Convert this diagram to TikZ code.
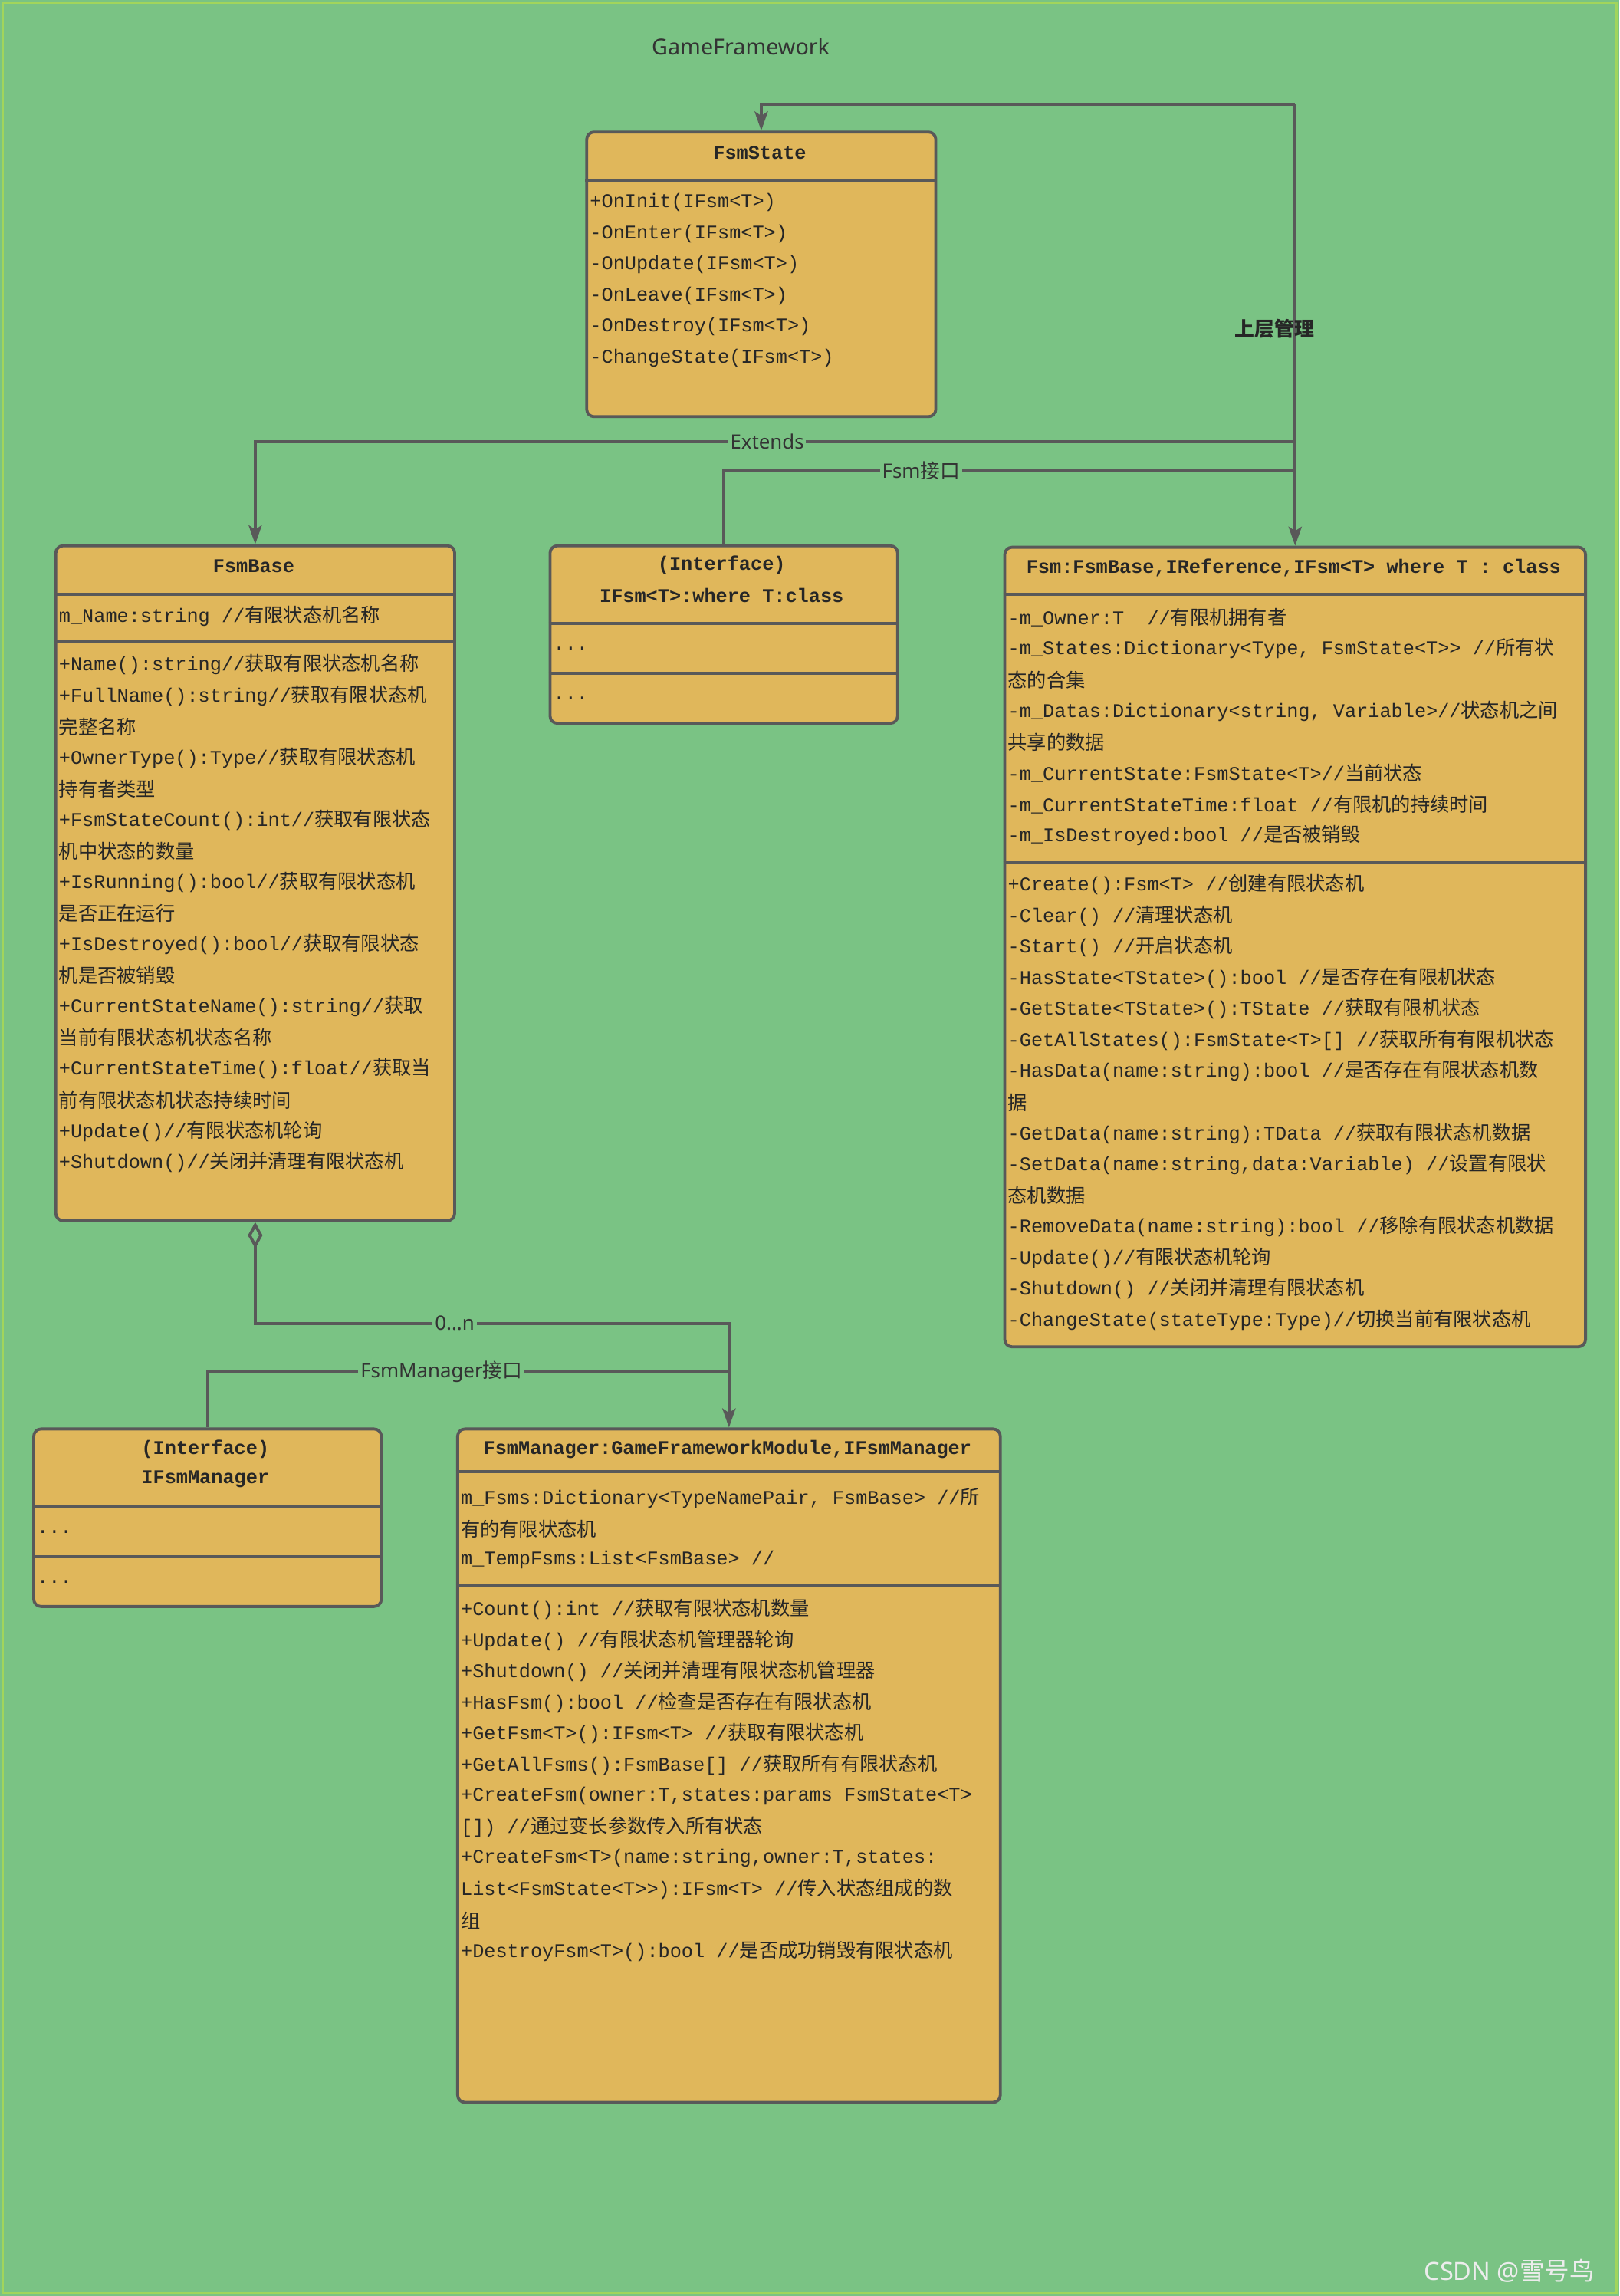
\documentclass[tikz,border=0pt]{standalone}
\usepackage{fontspec}
\setmainfont{Noto Sans}
\setsansfont{Noto Sans}
\setmonofont{Liberation Mono}
\newfontfamily\cjkfont{Noto Sans CJK SC}
\usetikzlibrary{arrows.meta}
\XeTeXinterchartokenstate=1
\newXeTeXintercharclass\CJKcls
\count255="4E00
\loop \XeTeXcharclass\count255=\CJKcls \ifnum\count255<"9FFF \advance\count255 by 1 \repeat
\count255="3000
\loop \XeTeXcharclass\count255=\CJKcls \ifnum\count255<"303F \advance\count255 by 1 \repeat
\count255="FF00
\loop \XeTeXcharclass\count255=\CJKcls \ifnum\count255<"FFEF \advance\count255 by 1 \repeat
\XeTeXinterchartoks 0 \CJKcls = {\begingroup\cjkfont}
\XeTeXinterchartoks 4095 \CJKcls = {\begingroup\cjkfont}
\XeTeXinterchartoks \CJKcls 0 = {\endgroup}
\XeTeXinterchartoks \CJKcls 4095 = {\endgroup}
\definecolor{bg}{RGB}{122,195,132}
\definecolor{boxfill}{RGB}{224,183,91}
\definecolor{ln}{RGB}{89,89,89}
\tikzset{
 umlbox/.style={draw=ln, fill=boxfill, line width=2pt, rounded corners=5pt, anchor=north west, inner sep=0},
 txt/.style={anchor=west, inner sep=0, font=\ttfamily\fontsize{13.2}{16}\selectfont, text=black!85},
 hdr/.style={inner sep=0, font=\ttfamily\bfseries\fontsize{13.2}{16}\selectfont, text=black!85},
 conn/.style={draw=ln, line width=2pt},
 arr/.style={conn, -{Stealth[length=13pt,width=9pt,inset=3pt]}},
 lbl/.style={fill=bg, inner sep=1.5pt, font=\sffamily\fontsize{13.5}{16}\selectfont, text=black!80},
 divline/.style={draw=ln, line width=2pt},
}
\newcommand{\boxlines}[4]{% prefix, x, y0, list
 \foreach \t [count=\i] in {#4} {\node[txt, name=#1\i] at (#2,{#3+21.2*(\i-1)}) {\t};}}
\begin{document}
\begin{tikzpicture}[x=1pt,y=-1pt]
\useasboundingbox (0,0) rectangle (1104,1565);
\fill[bg] (0,0) rectangle (1104,1565);
\draw[color=bg!70!yellow, line width=1.5pt] (2,2) rectangle (1102,1563);
\node[font=\sffamily\fontsize{15}{18}\selectfont, text=black!80] (title) at (505,32) {GameFramework};

% FsmState
\node[umlbox, minimum width=238pt, minimum height=194pt] (fsmstate) at (399,89) {};
\node[hdr] (fsmstateh) at (518,104) {FsmState};
\draw[divline] (399,123) -- (637,123);
\boxlines{fs}{402}{138}{+OnInit(IFsm<T>),-OnEnter(IFsm<T>),-OnUpdate(IFsm<T>),-OnLeave(IFsm<T>),-OnDestroy(IFsm<T>),-ChangeState(IFsm<T>)}

% FsmBase
\node[umlbox, minimum width=272pt, minimum height=460pt] (fsmbase) at (37,371) {};
\node[hdr] (fsmbaseh) at (173,386) {FsmBase};
\draw[divline] (37,405) -- (309,405);
\draw[divline] (37,437) -- (309,437);
\node[txt] (fba) at (40,420) {m\_Name:string //有限状态机名称};
\boxlines{fb}{40}{453}{+Name():string//获取有限状态机名称,+FullName():string//获取有限状态机,完整名称,+OwnerType():Type//获取有限状态机,持有者类型,+FsmStateCount():int//获取有限状态,机中状态的数量,+IsRunning():bool//获取有限状态机,是否正在运行,+IsDestroyed():bool//获取有限状态,机是否被销毁,+CurrentStateName():string//获取,当前有限状态机状态名称,+CurrentStateTime():float//获取当,前有限状态机状态持续时间,+Update()//有限状态机轮询,+Shutdown()//关闭并清理有限状态机}

% IFsm interface
\node[umlbox, minimum width=237pt, minimum height=121pt] (ifsm) at (374,371) {};
\node[hdr] (ifsmh1) at (492,385) {(Interface)};
\node[hdr] (ifsmh2) at (492,406) {IFsm<T>:where T:class};
\draw[divline] (374,425) -- (611,425);
\draw[divline] (374,459) -- (611,459);
\node[txt] (ifsma) at (377,442) {...};
\node[txt] (ifsmb) at (377,476) {...};

% Fsm
\node[umlbox, minimum width=396pt, minimum height=545pt] (fsm) at (684,372) {};
\node[hdr] (fsmh) at (882,387) {Fsm:FsmBase,IReference,IFsm<T> where T : class};
\draw[divline] (684,405) -- (1080,405);
\draw[divline] (684,588) -- (1080,588);
\boxlines{fa}{687}{421}{-m\_Owner:T\ \ //有限机拥有者,{-m\_States:Dictionary<Type, FsmState<T>> //所有状},态的合集,{-m\_Datas:Dictionary<string, Variable>//状态机之间},共享的数据,-m\_CurrentState:FsmState<T>//当前状态,-m\_CurrentStateTime:float //有限机的持续时间,-m\_IsDestroyed:bool //是否被销毁}
\boxlines{fm}{687}{603}{+Create():Fsm<T> //创建有限状态机,-Clear() //清理状态机,-Start() //开启状态机,-HasState<TState>():bool //是否存在有限机状态,-GetState<TState>():TState //获取有限机状态,-GetAllStates():FsmState<T>[] //获取所有有限机状态,-HasData(name:string):bool //是否存在有限状态机数,据,-GetData(name:string):TData //获取有限状态机数据,{-SetData(name:string,data:Variable) //设置有限状},态机数据,-RemoveData(name:string):bool //移除有限状态机数据,-Update()//有限状态机轮询,-Shutdown() //关闭并清理有限状态机,-ChangeState(stateType:Type)//切换当前有限状态机}

% IFsmManager
\node[umlbox, minimum width=237pt, minimum height=121pt] (ifsmmgr) at (22,973) {};
\node[hdr] (ifmh1) at (140,988) {(Interface)};
\node[hdr] (ifmh2) at (140,1008) {IFsmManager};
\draw[divline] (22,1027) -- (259,1027);
\draw[divline] (22,1061) -- (259,1061);
\node[txt] (ifma) at (25,1044) {...};
\node[txt] (ifmb) at (25,1078) {...};

% FsmManager
\node[umlbox, minimum width=370pt, minimum height=459pt] (fsmmgr) at (311,973) {};
\node[hdr] (fsmmgrh) at (496,988) {FsmManager:GameFrameworkModule,IFsmManager};
\draw[divline] (311,1003) -- (681,1003);
\draw[divline] (311,1081) -- (681,1081);
\boxlines{ma}{314}{1021}{{m\_Fsms:Dictionary<TypeNamePair, FsmBase> //所},有的有限状态机,m\_TempFsms:List<FsmBase> //}
\boxlines{mm}{314}{1097}{+Count():int //获取有限状态机数量,+Update() //有限状态机管理器轮询,+Shutdown() //关闭并清理有限状态机管理器,+HasFsm():bool //检查是否存在有限状态机,+GetFsm<T>():IFsm<T> //获取有限状态机,+GetAllFsms():FsmBase[] //获取所有有限状态机,{+CreateFsm(owner:T,states:params FsmState<T>},{[]) //通过变长参数传入所有状态},{+CreateFsm<T>(name:string,owner:T,states:},List<FsmState<T>>):IFsm<T> //传入状态组成的数,组,+DestroyFsm<T>():bool //是否成功销毁有限状态机}

% connectors
\coordinate (top) at (fsm.north |- 0,71);
\draw[arr] (top) -| (fsmstate.north);
\draw[arr] (top) -- (fsm.north);
\node[font=\sffamily\bfseries\fontsize{13.5}{16}\selectfont, text=black!85] (upper) at (869,224) {上层管理};
\draw[arr] (fsm.north |- 0,301) -| (fsmbase.north);
\node[lbl] (extl) at (523,301) {Extends};
\draw[conn] (fsm.north |- 0,321) -| (ifsm.north);
\node[lbl] (fsml) at (628,321) {Fsm接口};
\coordinate (aggc) at (fsmmgr.north |- 0,902);
\draw[conn, {Diamond[open,length=18pt,width=10pt]}-{Stealth[length=13pt,width=9pt,inset=3pt]}] (fsmbase.south) |- (aggc) -- (fsmmgr.north);
\node[lbl] (agl) at (310,902) {0...n};
\draw[conn] (fsmmgr.north |- 0,935) -| (ifsmmgr.north);
\node[lbl] (fml) at (301,935) {FsmManager接口};
\node[font=\sffamily\fontsize{17}{20}\selectfont, text=white!85!gray] (wm) at (1029,1548) {CSDN @雪号鸟};
\end{tikzpicture}
\end{document}
